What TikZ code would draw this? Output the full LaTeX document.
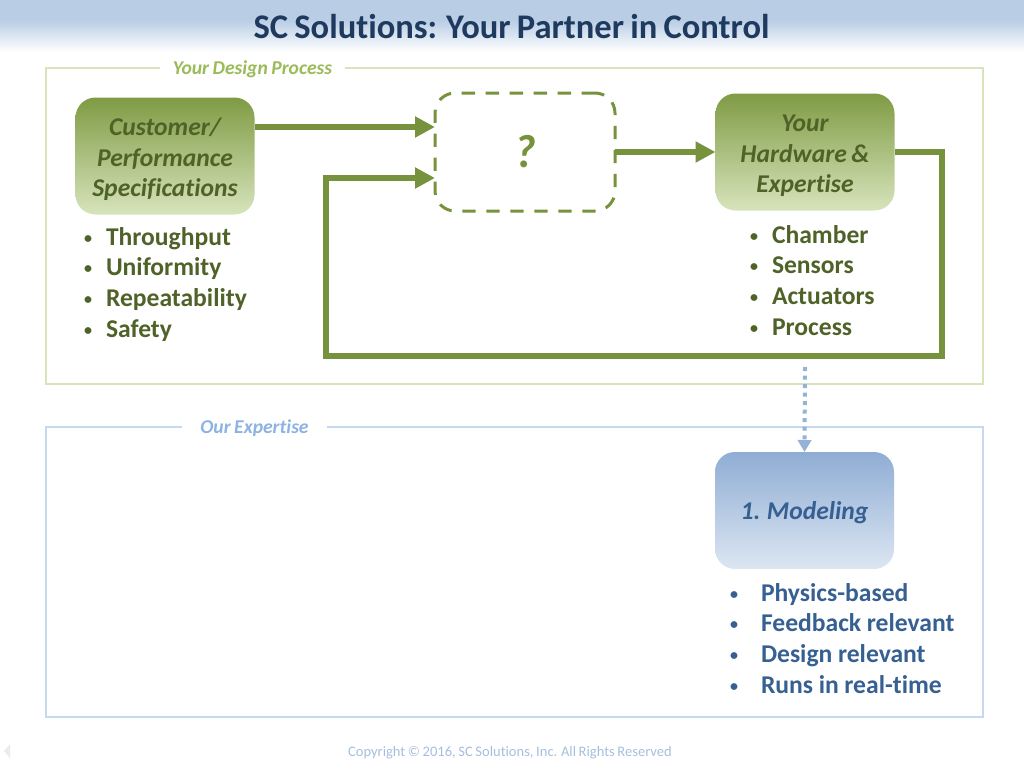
\documentclass[tikz,border=0pt]{standalone}
\usepackage{fontspec}
\setmainfont[Ligatures=NoCommon,WordSpace=0.8]{Carlito}
\usetikzlibrary{arrows.meta}
\definecolor{oliveline}{HTML}{76923C}
\definecolor{olivetext}{HTML}{4F6228}
\definecolor{olivetop}{HTML}{7F9B44}
\definecolor{olivemid}{HTML}{B7CD8C}
\definecolor{olivelow}{HTML}{D7E4BC}
\definecolor{olivelabel}{HTML}{9BBB59}
\definecolor{bluetop}{HTML}{8FADD4}
\definecolor{bluemid}{HTML}{B9CDE5}
\definecolor{bluelow}{HTML}{DCE6F2}
\definecolor{bluetext}{HTML}{366092}
\definecolor{bluelabel}{HTML}{8DB3E2}
\definecolor{blueframe}{HTML}{C6D9F1}
\definecolor{blueline}{HTML}{95B3D7}
\definecolor{copytext}{HTML}{A6BEDE}
\definecolor{titleblue}{HTML}{B9CDE5}
\definecolor{titletext}{HTML}{1F3A5F}
\newcommand{\smallbul}{\raisebox{1.5pt}{\fontsize{12}{12}\selectfont\textbullet}}
\newcommand{\itembul}[1]{\makebox[16.5pt][l]{\smallbul}\spaceskip=.22em\relax #1}
\newcommand{\itembulwide}[1]{\makebox[23.25pt][l]{\smallbul}\spaceskip=.22em\relax #1}
\newcommand{\boxtop}{\rule{0pt}{15.2pt}}
\begin{document}
\begin{tikzpicture}[x=0.75pt,y=-0.75pt,node distance=23.1pt]
  \tikzstyle{GreenBox}=[rectangle,rounded corners=15pt,minimum width=134.25pt,minimum height=87.75pt,inner sep=0pt,outer sep=0pt,align=center,text depth=0pt,top color=olivetop,middle color=olivemid,bottom color=olivelow,text=olivetext,font=\fontsize{19.2}{23.1}\selectfont\bfseries\itshape]
  \tikzstyle{BlueBox}=[GreenBox,top color=bluetop,middle color=bluemid,bottom color=bluelow,text=bluetext]
  \tikzstyle{GreenItem}=[text width=180pt,inner sep=0pt,align=left,text height=14pt,text depth=5pt,text=olivetext,font=\fontsize{19.2}{23.1}\selectfont\bfseries]
  \tikzstyle{BlueItem}=[GreenItem,text=bluetext]
  \tikzstyle{Frame}=[line width=1.5pt]
  \tikzstyle{FrameLabel}=[fill=white,inner sep=0pt,minimum height=18pt,text depth=0pt,font=\fontsize{14.7}{18}\selectfont\bfseries\itshape]
  \tikzstyle{MainArrow}=[line width=4.5pt,draw=oliveline,-{Triangle[length=15pt,width=15pt]}]

  \useasboundingbox (0,0) rectangle (1024,768);

  % title band
  \fill[titleblue] (0,0) rectangle (1024,20);
  \shade[top color=titleblue,bottom color=white] (0,20) rectangle (1024,52);
  \node[text=titletext,font=\fontsize{25.9}{30}\selectfont\bfseries] (title) at (511.5,27) {SC Solutions: Your Partner in Control};

  % frames
  \draw[Frame,draw=olivelow] (46,68) rectangle (983,384);
  \node[FrameLabel,text=olivelabel,minimum width=138.75pt] (designlabel) at (252.5,68) {Your Design Process};
  \draw[Frame,draw=blueframe] (46,427) rectangle (983,717);
  \node[FrameLabel,text=bluelabel,minimum width=108.75pt] (expertlabel) at (254.5,427) {Our Expertise};

  % boxes
  \node[GreenBox] (spec) at (165,156) {\boxtop Customer/\\Performance\\Specifications};
  \node[rectangle,rounded corners=15pt,minimum width=135pt,minimum height=88.5pt,outer sep=0pt,draw=oliveline,line width=2.25pt,dash pattern=on 10pt off 8pt,text=oliveline,font=\fontsize{35}{38}\selectfont\bfseries\itshape] (q) at (525,152) {?};
  \node[GreenBox] (hw) at (805,152) {\boxtop Your\\Hardware \&\\Expertise};
  \node[BlueBox] (model) at (804.5,510.5) {1. Modeling};

  % lists
  \node[GreenItem] (t1) at (204,239) {\itembul{Throughput}};
  \node[GreenItem,below of=t1] (t2) {\itembul{Uniformity}};
  \node[GreenItem,below of=t2] (t3) {\itembul{Repeatability}};
  \node[GreenItem,below of=t3] (t4) {\itembul{Safety}};

  \node[GreenItem] (h1) at (870,237) {\itembul{Chamber}};
  \node[GreenItem,below of=h1] (h2) {\itembul{Sensors}};
  \node[GreenItem,below of=h2] (h3) {\itembul{Actuators}};
  \node[GreenItem,below of=h3] (h4) {\itembul{Process}};

  \node[BlueItem] (m1) at (850,595) {\itembulwide{Physics-based}};
  \node[BlueItem,below of=m1] (m2) {\itembulwide{Feedback relevant}};
  \node[BlueItem,below of=m2] (m3) {\itembulwide{Design relevant}};
  \node[BlueItem,below of=m3] (m4) {\itembulwide{Runs in real-time}};

  % footer
  \node[text=copytext,font=\fontsize{10.9}{13}\selectfont] (copy) at (510,753) {Copyright \textcopyright{} 2016, SC Solutions, Inc. All Rights Reserved};
  \fill[black!8] (4,751) -- (10,744) -- (10,758) -- cycle;

  % edges
  \coordinate (corner1) at (942,356);
  \coordinate (corner2) at (326,178);
  \coordinate (tap) at (805,367);

  \draw[MainArrow] ([yshift=21.75pt]spec.east) -- ([yshift=18.75pt]q.west);
  \draw[MainArrow] (q.east) -- (hw.west);
  \draw[MainArrow] (hw.east) -| (corner1) -| (corner2) -- ([yshift=-19.5pt]q.west);
  \draw[line width=3pt,draw=blueline,dash pattern=on 3pt off 3.4pt,-{Triangle[length=9pt,width=10pt]}] (tap) -- (model.north);
\end{tikzpicture}
\end{document}
